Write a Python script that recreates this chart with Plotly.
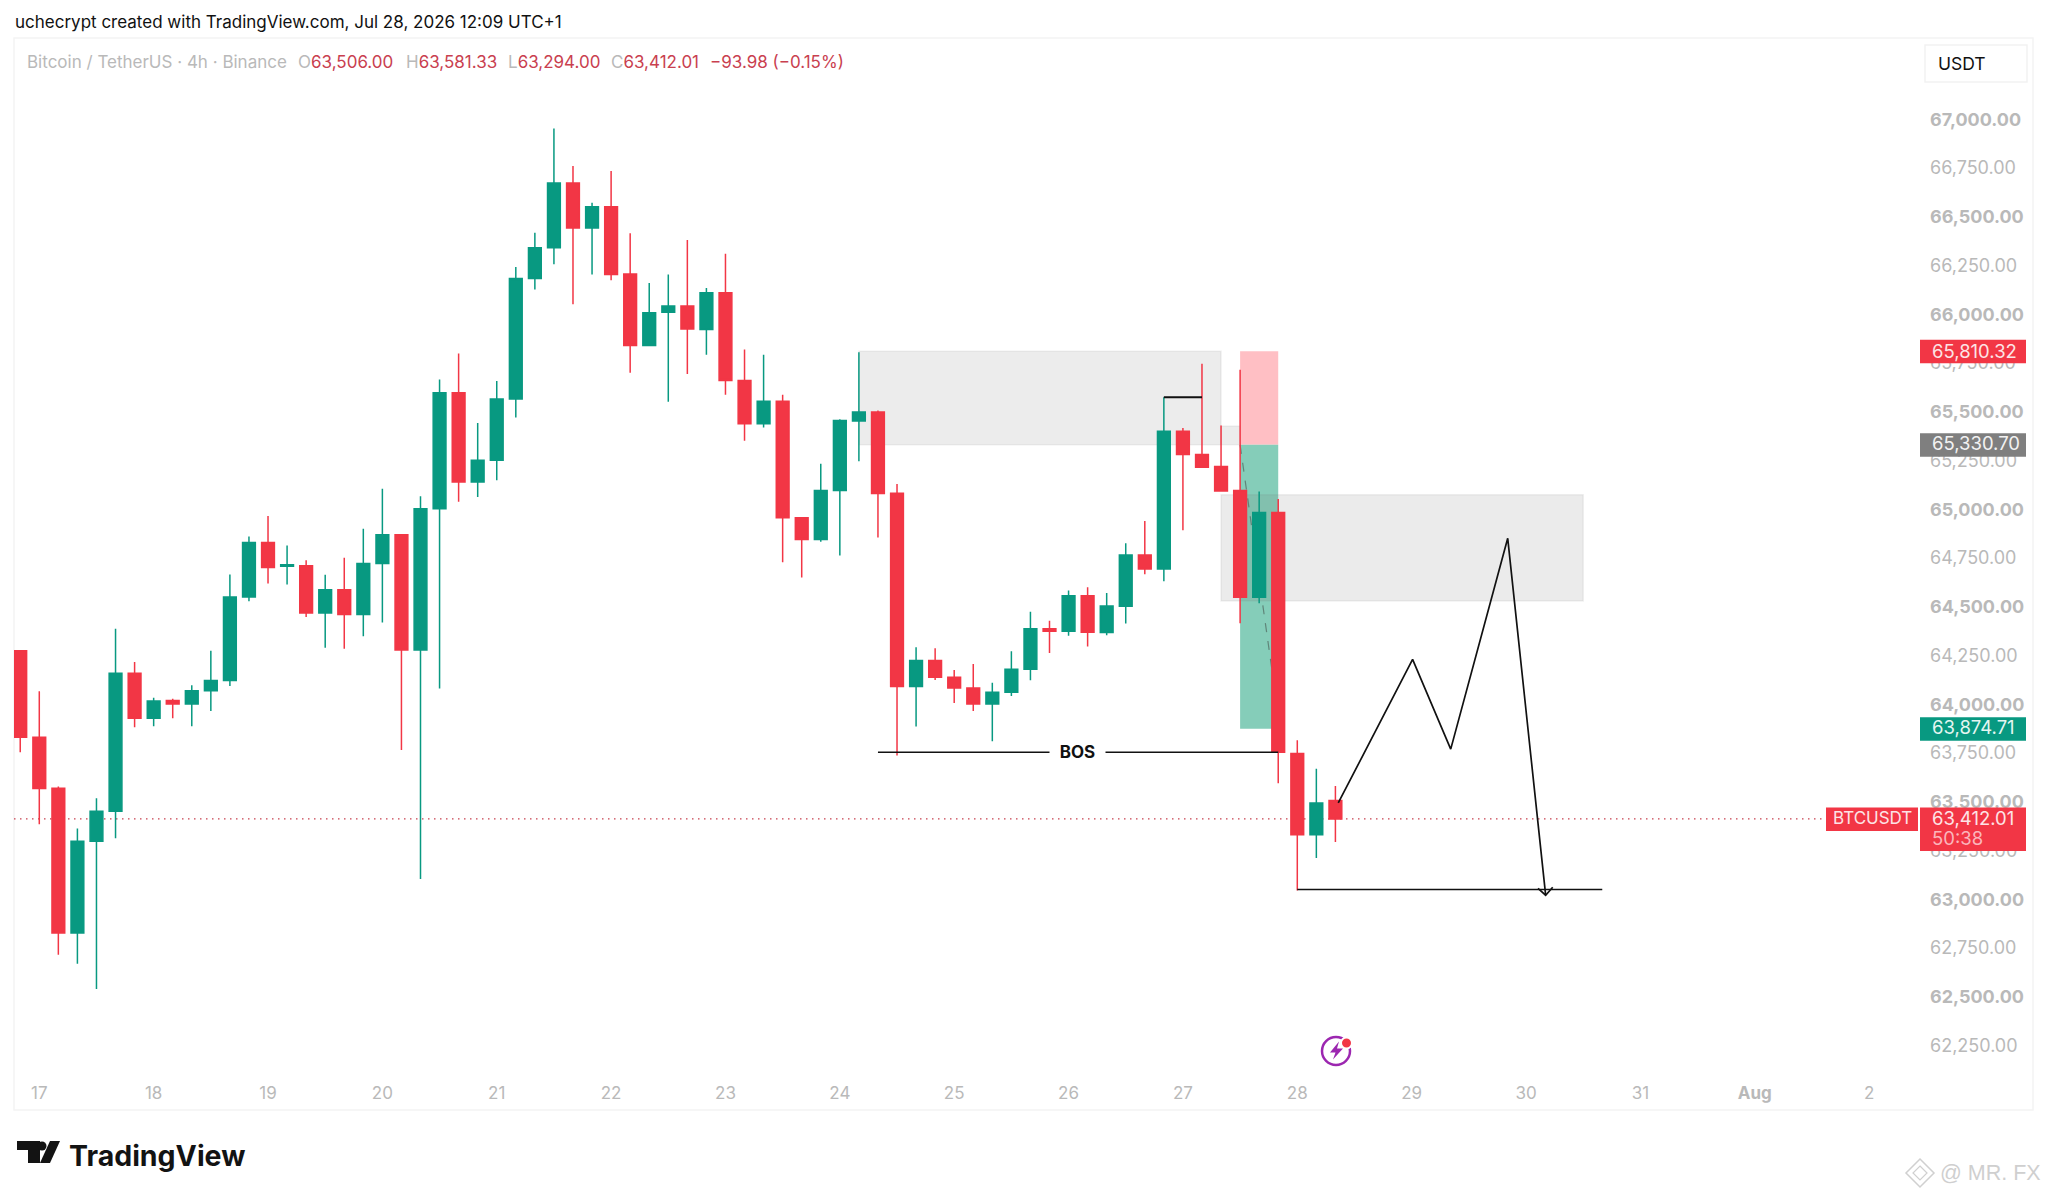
import pandas as pd
import plotly.graph_objects as go

W = 2048
H = 1196

# bars are 4h, bar 0 is the one under the "17" label, the first bar in the list is bar -1
first_bar = -1
opens = [64274, 63831, 63569, 62827, 63298, 63452, 64159, 63928, 64019, 64002, 64069,
         64122, 64550, 64830, 64708, 64711, 64468, 64587, 64460, 64722, 64869, 64279,
         65003, 65598, 65140, 65252, 65565, 66184, 66341, 66673, 66442, 66552, 66206,
         65840, 66010, 66043, 65922, 66110, 65660, 65438, 65554, 64957, 64845, 65096,
         65453, 65499, 65082, 64091, 64224, 64139, 64084, 64002, 64062, 64180, 64387,
         64375, 64556, 64368, 64503, 64766, 64694, 65400, 65281, 65219, 65096, 64549,
         64983, 63747, 63331, 63506]
highs = [64274, 64067, 63578, 63363, 63518, 64387, 64217, 64034, 64028, 64098, 64274,
         64666, 64860, 64966, 64814, 64739, 64664, 64752, 64900, 65105, 64869, 65067,
         65666, 65799, 65442, 65658, 66242, 66418, 66953, 66761, 66572, 66735, 66416,
         66160, 66204, 66381, 66135, 66310, 65819, 65792, 65587, 64957, 65233, 65462,
         65805, 65506, 65130, 64293, 64287, 64176, 64207, 64110, 64272, 64475, 64429,
         64583, 64600, 64571, 64826, 64940, 65575, 65417, 65746, 65429, 65716, 65091,
         65053, 63816, 63670, 63581.33]
lows = [63754, 63385, 62715, 62669, 62540, 63313, 63882, 63887, 63928, 63887, 63966,
        64094, 64528, 64620, 64614, 64447, 64290, 64285, 64349, 64420, 63766, 63104,
        64081, 65039, 65063, 65149, 65471, 66127, 66257, 66052, 66204, 66175, 65700,
        65840, 65552, 65694, 65792, 65587, 65351, 65419, 64728, 64650, 64834, 64763,
        65246, 64855, 63737, 63886, 64125, 64007, 63966, 63810, 64043, 64123, 64263,
        64352, 64296, 64354, 64414, 64667, 64631, 64893, 65216, 65094, 64416, 64518,
        63595, 63045, 63212, 63294]
closes = [63831, 63568, 62827, 63298, 63452, 64159, 63928, 64017, 64002, 64069, 64122,
          64550, 64830, 64702, 64716, 64468, 64587, 64460, 64722, 64869, 64279, 65003,
          65598, 65140, 65252, 65565, 66184, 66341, 66673, 66442, 66552, 66204, 65840,
          66008, 66043, 65924, 66110, 65660, 65438, 65554, 64956, 64845, 65096, 65455,
          65499, 65081, 64091, 64224, 64139, 64084, 64002, 64062, 64180, 64387, 64375,
          64556, 64369, 64504, 64766, 64694, 65400, 65281, 65216, 65094, 64549, 64983,
          63754, 63331, 63494, 63412.01]

price_ticks = [67000, 66750, 66500, 66250, 66000, 65750, 65500, 65250, 65000, 64750,
               64500, 64250, 64000, 63750, 63500, 63250, 63000, 62750, 62500, 62250]
day_ticks = ["2026-07-17", "2026-07-18", "2026-07-19", "2026-07-20", "2026-07-21", "2026-07-22",
             "2026-07-23", "2026-07-24", "2026-07-25", "2026-07-26", "2026-07-27", "2026-07-28",
             "2026-07-29", "2026-07-30", "2026-07-31", "2026-08-01", "2026-08-02"]
day_labels = ["17", "18", "19", "20", "21", "22", "23", "24", "25", "26", "27", "28",
              "29", "30", "31", "<b>Aug</b>", "2"]

last_price = 63412.01
stop_price = 65810.32
entry_price = 65330.70
target_price = 63874.71

# drawings, as (bar number, price)
bos_bars = [44, 65]
bos_price = 63754
small_line_bars = [59, 61]
small_line_price = 65575
low_line_bars = [66, 82]
low_line_price = 63050
zigzag_bars = [68.15, 72.05, 74.05, 77.04, 79.03]
zigzag_prices = [63494, 64230, 63770, 64851, 63021]
arrow_bars = [78.63, 79.03, 79.4]
arrow_prices = [63056, 63021, 63062]
risk_dash_bars = [63, 65]
risk_dash_prices = [65330, 63950]

header_labels = ["O", "H", "L", "C"]
header_values = ["63,506.00", "63,581.33", "63,294.00", "63,412.01"]
header_x = [296, 404, 506, 609]

GREEN = "#089981"
RED = "#F23645"
GREY_TXT = "#b9b9b9"
FONT = "Inter"


def bar_time(i):
    return pd.Timestamp("2026-07-17") + pd.Timedelta(hours=4 * i)


def px(x):
    return x / W


def py(y):
    return 1 - y / H


def poly(points):
    return "M" + " L".join(f"{px(x):.5f},{py(y):.5f}" for x, y in points) + " Z"


def rect(bar0, bar1, p0, p1, fill, line_col=None):
    return dict(type="rect", xref="x", yref="y", x0=bar_time(bar0), x1=bar_time(bar1), y0=p0, y1=p1,
                fillcolor=fill, line=dict(color=line_col or "rgba(0,0,0,0)", width=1.5), layer="below")


def price_tag(price, color, x0=1920, x1=2026, up=11.5, down=12):
    return dict(type="rect", xref="paper", yref="y", x0=px(x0), x1=px(x1), ysizemode="pixel", yanchor=price,
                y0=-down, y1=up, fillcolor=color, line=dict(width=0), layer="above")


def note(x, y, text, size=17, color=GREY_TXT, anchor="left", font=FONT):
    return dict(xref="paper", yref="paper", x=px(x), y=py(y), text=text, showarrow=False, xanchor=anchor,
                yanchor="middle", font=dict(family=font, size=size, color=color))


times = [bar_time(first_bar + n) for n in range(len(opens))]

fig = go.Figure()
fig.add_trace(go.Candlestick(
    x=times, open=opens, high=highs, low=lows, close=closes,
    increasing=dict(line=dict(color=GREEN, width=1.5), fillcolor=GREEN),
    decreasing=dict(line=dict(color=RED, width=1.5), fillcolor=RED),
    showlegend=False, hoverinfo="skip"))


def add_line(bars, prices, width=1.5, color="#111111", dash=None):
    fig.add_trace(go.Scatter(x=[bar_time(b) for b in bars], y=prices, mode="lines", showlegend=False,
                             hoverinfo="skip", line=dict(color=color, width=width, dash=dash)))


add_line(bos_bars, [bos_price] * 2)
add_line(small_line_bars, [small_line_price] * 2, width=2)
add_line(low_line_bars, [low_line_price] * 2)
add_line(zigzag_bars, zigzag_prices, width=1.7)
add_line(arrow_bars, arrow_prices, width=1.7)

shapes = [
    # pane frame and the currency box
    dict(type="rect", xref="paper", yref="paper", x0=px(14), x1=px(2033), y0=py(1110), y1=py(38),
         line=dict(color="#f4f4f4", width=1.5), layer="below"),
    dict(type="rect", xref="paper", yref="paper", x0=px(1925), x1=px(2027), y0=py(82), y1=py(45),
         line=dict(color="#f2f2f2", width=1.5), layer="below"),
    rect(63, 65, entry_price, stop_price, "#ffbfc4"),
    rect(63, 65, target_price, entry_price, "#85cdb9"),
    dict(type="line", xref="x", yref="y", x0=bar_time(risk_dash_bars[0]), x1=bar_time(risk_dash_bars[1]),
         y0=risk_dash_prices[0], y1=risk_dash_prices[1], line=dict(color="#5f8579", width=1.2, dash="dash"),
         layer="below"),
    rect(43, 62, entry_price, stop_price, "rgba(110,110,110,0.13)", "rgba(120,120,120,0.10)"),
    rect(62, 63, entry_price, 65427, "rgba(110,110,110,0.13)", "rgba(120,120,120,0.08)"),
    rect(62, 81, 64530, 65075, "rgba(110,110,110,0.14)", "rgba(120,120,120,0.10)"),
    # last price line
    dict(type="line", xref="paper", yref="y", x0=px(14), x1=px(1826), y0=last_price, y1=last_price,
         line=dict(color="#c8404f", width=1.3, dash="1.5px,4.5px"), layer="below"),
    # price scale tags
    price_tag(stop_price, RED),
    price_tag(entry_price, "#7f7f7f"),
    price_tag(target_price, GREEN),
    price_tag(last_price, RED, down=32),
    price_tag(last_price, RED, x0=1826, x1=1918),
    # flash icon
    dict(type="circle", xref="paper", yref="paper", x0=px(1322), x1=px(1350), y0=py(1065), y1=py(1037),
         line=dict(color="#9c27b0", width=2.5), layer="above"),
    dict(type="circle", xref="paper", yref="paper", x0=px(1341), x1=px(1352), y0=py(1048.5), y1=py(1037.5),
         fillcolor=RED, line=dict(color="white", width=2), layer="above"),
    dict(type="path", xref="paper", yref="paper", layer="above", fillcolor="#9c27b0", line=dict(width=0),
         path=poly([(1339, 1041.5), (1330, 1052.5), (1335.5, 1052.5), (1333, 1059.5), (1343, 1048.5), (1337, 1048.5)])),
    # TradingView mark
    dict(type="path", xref="paper", yref="paper", layer="above", fillcolor="#131313", line=dict(width=0),
         path=poly([(17, 1141), (40, 1141), (40, 1163), (28, 1163), (28, 1150), (17, 1150)])),
    dict(type="circle", xref="paper", yref="paper", x0=px(37.5), x1=px(46.5), y0=py(1150.5), y1=py(1141.5),
         fillcolor="#131313", line=dict(width=0), layer="above"),
    dict(type="path", xref="paper", yref="paper", layer="above", fillcolor="#131313", line=dict(width=0),
         path=poly([(50, 1141), (60, 1141), (50, 1163), (40, 1163)])),
    # watermark mark
    dict(type="path", xref="paper", yref="paper", layer="above", line=dict(color="#d0d0d0", width=1.5),
         path=poly([(1920, 1159), (1934, 1173), (1920, 1187), (1906, 1173)])),
    dict(type="path", xref="paper", yref="paper", layer="above", line=dict(color="#d0d0d0", width=1.2),
         path=poly([(1920, 1166), (1927, 1173), (1920, 1180), (1913, 1173)])),
]

annotations = [
    note(13, 22, "uchecrypt created with TradingView.com, Jul 28, 2026 12:09 UTC+1", color="#111111"),
    note(25, 61.5, "Bitcoin / TetherUS · 4h · Binance"),
    note(1936, 63, "USDT", size=17.5, color="#111111"),
    note(708, 61.5, "−93.98 (−0.15%)", color="#c9404f"),
    note(67, 1155, "<b>TradingView</b>", size=28.5, color="#131313"),
    note(1938, 1173, "@ MR. FX", size=21.5, color="#cfcfcf", font="Liberation Sans"),
    dict(xref="x", yref="y", x=bar_time(54.45), y=bos_price, text="<b>BOS</b>", showarrow=False, bgcolor="white",
         width=53, height=20, font=dict(family=FONT, size=17, color="#111111")),
    note(1930, 818, "63,412.01", size=18.5, color="#fde3e5"),
    note(1930, 838, "50:38", size=18.5, color="#fbb5bb"),
    note(1831, 818, "BTCUSDT", color="#fde3e5"),
    note(1930, 351, "65,810.32", size=18.5, color="#fde3e5"),
    note(1930, 443.5, "65,330.70", size=18.5, color="#f2f2f2"),
    note(1930, 727, "63,874.71", size=18.5, color="#e4f6f1"),
]
for lab, val, xpos in zip(header_labels, header_values, header_x):
    annotations.append(note(xpos, 61.5, f'{lab}<span style="color:#c9404f">{val}</span>'))

# every other price label is bold on the TradingView scale
price_text = [f"<b>{p:,.2f}</b>" if p % 500 == 0 else f"{p:,.2f}" for p in price_ticks]

fig.update_layout(
    width=W, height=H, margin=dict(l=0, r=0, t=0, b=0),
    paper_bgcolor="white", plot_bgcolor="rgba(0,0,0,0)",
    boxgap=0.33, boxgroupgap=0, showlegend=False, shapes=shapes, annotations=annotations,
    font=dict(family=FONT),
)
fig.update_xaxes(
    domain=[px(14), px(1928)], range=[bar_time(-1.327), bar_time(99.09)],
    rangeslider=dict(visible=False), showgrid=False, zeroline=False, showline=False,
    tickmode="array", tickvals=day_ticks, ticktext=day_labels, ticklen=0,
    tickfont=dict(family=FONT, size=17, color=GREY_TXT), ticklabelstandoff=6,
)
fig.update_yaxes(
    domain=[py(1075), py(38)], range=[62098.9, 67416.8], side="right",
    showgrid=False, zeroline=False, showline=False,
    tickmode="array", tickvals=price_ticks, ticktext=price_text, ticklen=0,
    tickfont=dict(family=FONT, size=18, color=GREY_TXT), ticklabelstandoff=1,
)

fig.write_html("out.html", config=dict(displayModeBar=False), post_script="document.body.style.margin='0';")
